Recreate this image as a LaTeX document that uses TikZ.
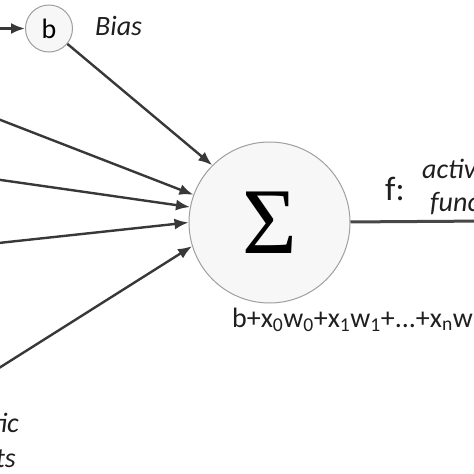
\documentclass[tikz,border=0pt]{standalone}
\usepackage{fontspec}
\setmainfont{Carlito}
\newfontfamily\sigmafont{Liberation Serif}
\usetikzlibrary{arrows.meta}

\begin{document}
\begin{tikzpicture}[x=1pt, y=-1pt, >={Latex[length=14pt,width=11pt]},
        every neuron/.style={circle, draw=gray!75, line width=1pt, fill=gray!6, inner sep=0pt},
        every link/.style={->, draw=black!78, line width=2.4pt},
        label text/.style={font=\fontsize{28}{32}\selectfont\itshape, text=black!88, inner sep=0pt}]
        \useasboundingbox (0,0) rectangle (474,474);
        \clip (0,0) rectangle (474,474);

        %%%%%%%%%%%%%%%%%%%%%%%%%%%%%%%%%%%%%%%%%%%%
        % Neuron
        %%%%%%%%%%%%%%%%%%%%%%%%%%%%%%%%%%%%%%%%%%%%

        % Drawing
        \node [every neuron, minimum size=161pt] (sum) at (269.5,222.5)
            {\sigmafont\fontsize{94}{94}\selectfont Σ};
        \node [every neuron, minimum size=47pt] (bias) at (49,28.5)
            {\fontsize{28}{32}\selectfont b};

        % Labeling
        \node [label text, anchor=base west] (bias-label) at (95,35) {Bias};
        \node [anchor=base west, inner sep=0pt, text=black!88, font=\fontsize{28}{32}\selectfont] (sum-label) at (232,327)
            {b+x\textsubscript{0}w\textsubscript{0}+x\textsubscript{1}w\textsubscript{1}+...+x\textsubscript{n}w\textsubscript{n}};


        %%%%%%%%%%%%%%%%%%%%%%%%%%%%%%%%%%%%%%%%%%%%
        % Input nodes
        %%%%%%%%%%%%%%%%%%%%%%%%%%%%%%%%%%%%%%%%%%%%

        % Drawing
        \foreach \y [count=\i] in {112,177,245,380}
            \coordinate (input-\i) at (-20,\y);
        \coordinate (bias-in) at (-20,28.5);

        % Labeling
        \node [label text, anchor=base east] (weights-1) at (19,432) {Synaptic};
        \node [label text, anchor=base east] (weights-2) at (16,467) {weights};


        %%%%%%%%%%%%%%%%%%%%%%%%%%%%%%%%%%%%%%%%%%%%
        % Output
        %%%%%%%%%%%%%%%%%%%%%%%%%%%%%%%%%%%%%%%%%%%%

        % Drawing
        \coordinate (output) at (490,221);
        \draw [draw=black!72, line width=3pt] (sum) -- (output);

        % Labeling
        \node [anchor=base west, inner sep=0pt, text=black!88, font=\fontsize{34}{34}\selectfont] (f-label) at (385,200) {f:};
        \node [label text, anchor=base west] (act-1) at (422,178) {activation};
        \node [label text, anchor=base west] (act-2) at (430,211) {function};


        %%%%%%%%%%%%%%%%%%%%%%%%%%%%%%%%%%%%%%%%%%%%
        % Connecting
        %%%%%%%%%%%%%%%%%%%%%%%%%%%%%%%%%%%%%%%%%%%%

        % Input nodes to neuron
        \foreach \i/\a in {1/160.5, 2/169.7, 3/180.4, 4/197.8}
            \draw [every link] (input-\i) -- (sum.\a);

        % Bias to neuron
        \draw [every link] (bias-in) -- (bias);
        \draw [every link] (bias) -- (sum.135);
    \end{tikzpicture}
\end{document}
